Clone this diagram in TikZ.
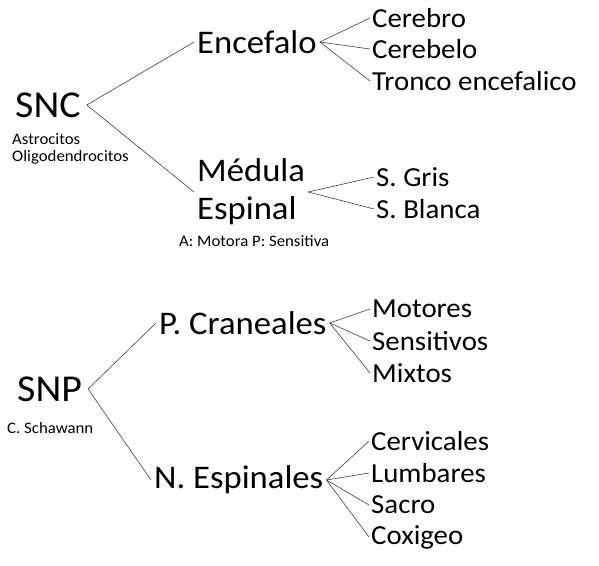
\documentclass[tikz,border=0pt]{standalone}
\usepackage{fontspec}
\setmainfont{Carlito}[FakeStretch=1.05]
\usetikzlibrary{positioning}

\begin{document}
\begin{tikzpicture}[x=1pt,y=-1pt,
  top/.style={anchor=west,inner xsep=6pt,inner ysep=1pt,font=\fontsize{38}{40}\selectfont},
  mid/.style={anchor=west,inner xsep=3pt,inner ysep=1pt,font=\fontsize{33}{38}\selectfont,align=left},
  leaf/.style={anchor=west,inner xsep=2pt,inner ysep=1pt,font=\fontsize{27.5}{32}\selectfont},
  note/.style={anchor=west,inner sep=1pt,font=\fontsize{16}{17}\selectfont,align=left},
  link/.style={draw=black!75,line width=0.6pt}]
\path[use as bounding box] (0,0) rectangle (599,565);
% sistema nervioso central
\node[top] (snc) at (9,105) {SNC};
\node[note] (snclab) at (11,149) {Astrocitos\\Oligodendrocitos};
\node[mid] (enc) at (194,42) {Encefalo};
\node[leaf] (cer) at (370,18) {Cerebro};
\node[leaf] (cbl) at (370,49) {Cerebelo};
\node[leaf] (tro) at (370,81) {Tronco encefalico};
\node[mid] (med) at (194,192) {Médula\\Espinal};
\node[leaf] (gris) at (374,177) {S. Gris};
\node[leaf] (bla) at (374,209) {S. Blanca};
\node[note] (medlab) at (178,241) {A: Motora P: Sensitiva};
\draw[link] (snc.east) -- (enc.west);\draw[link] (snc.east) -- (med.west);
\draw[link] (enc.east) -- (cer.west);\draw[link] (enc.east) -- (cbl.west);\draw[link] (enc.east) -- (tro.west);
\draw[link] (med.east) -- (gris.west);\draw[link] (med.east) -- (bla.west);
% sistema nervioso periferico
\node[top] (snp) at (11,389) {SNP};
\node[note] (snplab) at (6,428) {C. Schawann};
\node[mid] (pcr) at (156,323) {P. Craneales};
\node[leaf] (mot) at (370,309) {Motores};
\node[leaf] (sen) at (370,341) {Sensitivos};
\node[leaf] (mix) at (370,373) {Mixtos};
\node[mid] (nes) at (151,480) {N. Espinales};
\node[leaf] (cerv) at (369,441) {Cervicales};
\node[leaf] (lum) at (369,473) {Lumbares};
\node[leaf] (sac) at (369,505) {Sacro};
\node[leaf] (cox) at (369,537) {Coxigeo};
\draw[link] (snp.east) -- (pcr.west);\draw[link] (snp.east) -- (nes.west);
\draw[link] (pcr.east) -- (mot.west);\draw[link] (pcr.east) -- (sen.west);\draw[link] (pcr.east) -- (mix.west);
\draw[link] (nes.east) -- (cerv.west);\draw[link] (nes.east) -- (lum.west);\draw[link] (nes.east) -- (sac.west);\draw[link] (nes.east) -- (cox.west);
\end{tikzpicture}
\end{document}
